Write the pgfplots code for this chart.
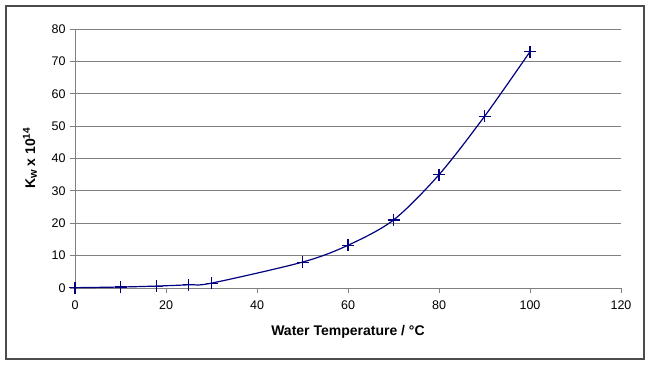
\documentclass[border=0pt]{standalone}
\usepackage{fontspec}
\setmainfont{Liberation Sans}
\usepackage{pgfplots}
\pgfplotsset{compat=1.18}
\definecolor{navyline}{RGB}{0,0,128}
\definecolor{gridgray}{RGB}{128,128,128}
\begin{document}
\begin{tikzpicture}
\useasboundingbox (0,0) rectangle (652pt,366pt);
\fill[white] (0,0) rectangle (652pt,366pt);
\draw[color=black!70, line width=1.2pt] (6pt,7pt) rectangle (644pt,360pt);
\begin{axis}[
  at={(75pt,78pt)}, anchor=origin,
  scale only axis, width=546pt, height=259pt,
  xmin=0, xmax=120, ymin=0, ymax=80,
  xtick={0,20,...,120}, ytick={0,10,...,80},
  axis x line*=bottom, axis y line*=left,
  axis line style={gridgray, line width=0.8pt},
  tick align=outside, major tick length=5pt,
  tick style={gridgray, line width=0.8pt},
  ymajorgrids, grid style={gridgray, line width=0.8pt},
  /pgf/number format/assume math mode=true,
  ticklabel style={font=\fontsize{12.5}{14}\selectfont, black},
  xticklabel style={yshift=-4pt},
  yticklabel style={xshift=-1pt},
  xlabel={\textbf{Water Temperature / °C}},
  ylabel={\textbf{K\raisebox{-0.25ex}{\fontsize{11}{12}\selectfont w} x 10\raisebox{0.7ex}{\fontsize{10}{12}\selectfont 14}}},
  xlabel style={font=\fontsize{14}{16}\selectfont, at={(axis description cs:0.5,-0.17)}, anchor=center},
  ylabel style={font=\fontsize{14}{16}\selectfont, at={(axis description cs:-0.0824,0.5)}, anchor=center, rotate=0},
  clip=false,
]
\addplot[navyline, line width=1.2pt, smooth, tension=0.5, mark=+, mark size=6pt, mark options={line width=1.1pt}]
coordinates {
(0,0.1) (10,0.3) (18,0.6) (25,1.0) (30,1.5) (50,8) (60,13.2) (70,21) (80,35) (90,53) (100,73)
};
\end{axis}
\end{tikzpicture}
\end{document}
